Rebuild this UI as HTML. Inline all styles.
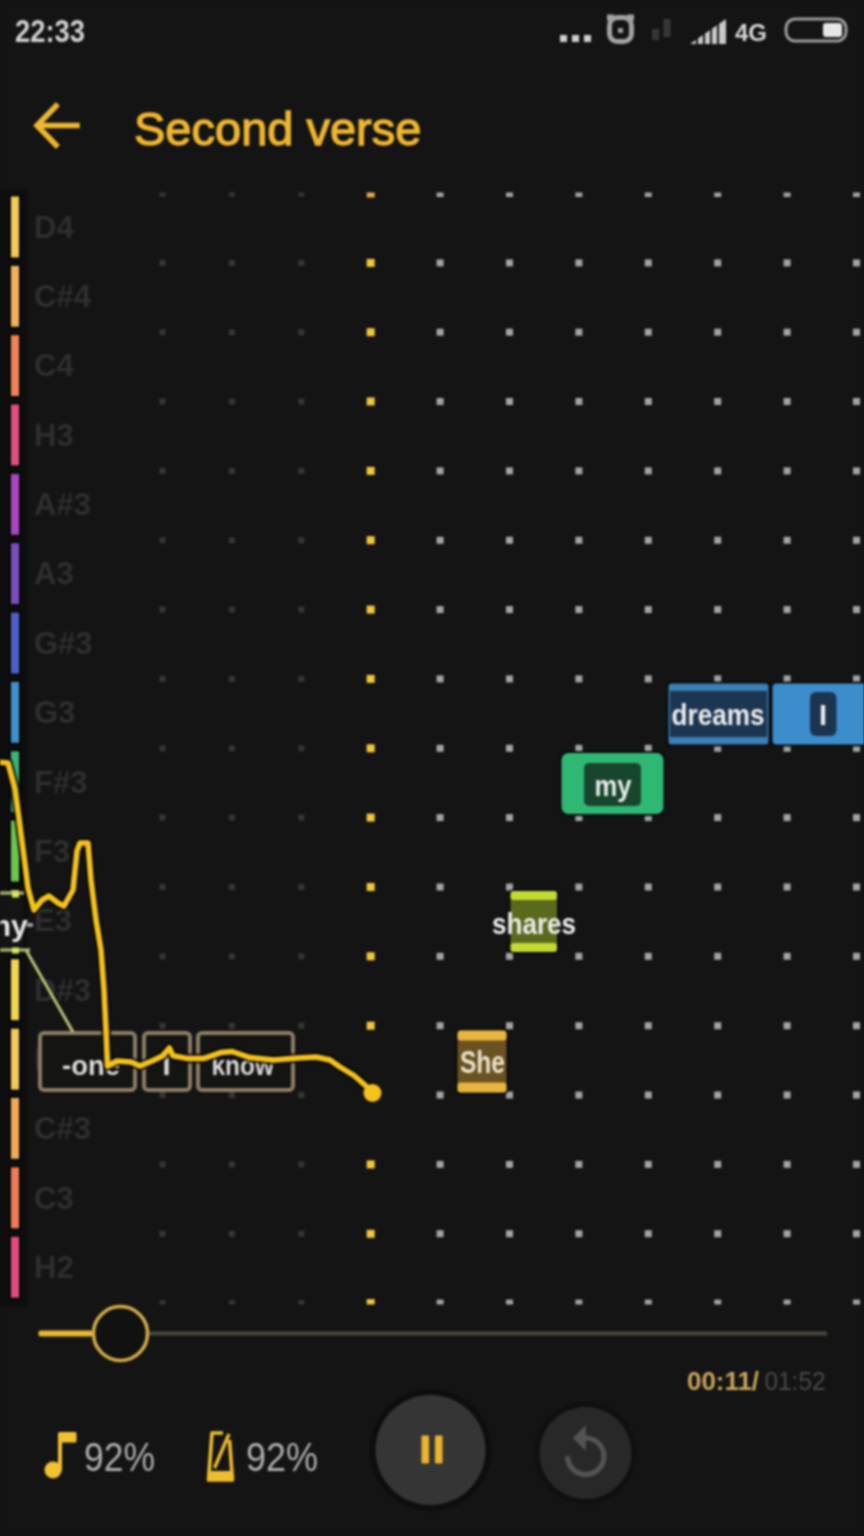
<!DOCTYPE html>
<html><head><meta charset="utf-8"><style>
html,body{margin:0;padding:0;background:#141414;}
body{width:864px;height:1536px;position:relative;overflow:hidden;font-family:"Liberation Sans",sans-serif;}
svg{position:absolute;left:0;top:0;filter:blur(1.2px);}
</style></head><body>
<svg width="864" height="1536" viewBox="0 0 864 1536" font-family="Liberation Sans, sans-serif">
<defs><clipPath id="gridclip"><rect x="0" y="192.5" width="864" height="1112"/></clipPath></defs>
<rect width="864" height="1536" fill="#141414"/>
<path d="M77 125.5 H38 M56 106 L37 125.5 L56 145" stroke="#efb62e" stroke-width="5.5" fill="none" stroke-linecap="square" stroke-linejoin="miter"/>
<text x="134" y="145" font-size="47" fill="#efb62e" stroke="#efb62e" stroke-width="1.3">Second verse</text>
<rect x="0" y="190" width="28" height="1116" fill="#0e0e0e"/>
<rect x="8.5" y="194.0" width="13" height="65.9" rx="2" fill="#080808"/>
<rect x="11" y="196.5" width="8" height="60.9" fill="#f4c85a"/>
<rect x="8.5" y="263.4" width="13" height="65.8" rx="2" fill="#080808"/>
<rect x="11" y="265.9" width="8" height="60.8" fill="#f4b05a"/>
<rect x="8.5" y="332.7" width="13" height="65.8" rx="2" fill="#080808"/>
<rect x="11" y="335.2" width="8" height="60.8" fill="#f18256"/>
<rect x="8.5" y="402.0" width="13" height="65.9" rx="2" fill="#080808"/>
<rect x="11" y="404.5" width="8" height="60.9" fill="#e04f80"/>
<rect x="8.5" y="471.4" width="13" height="65.9" rx="2" fill="#080808"/>
<rect x="11" y="473.9" width="8" height="60.9" fill="#a846c0"/>
<rect x="8.5" y="540.8" width="13" height="65.8" rx="2" fill="#080808"/>
<rect x="11" y="543.2" width="8" height="60.8" fill="#7a4ebe"/>
<rect x="8.5" y="610.1" width="13" height="65.9" rx="2" fill="#080808"/>
<rect x="11" y="612.6" width="8" height="60.9" fill="#4e60c8"/>
<rect x="8.5" y="679.4" width="13" height="65.9" rx="2" fill="#080808"/>
<rect x="11" y="681.9" width="8" height="60.9" fill="#4090cc"/>
<rect x="8.5" y="748.8" width="13" height="65.9" rx="2" fill="#080808"/>
<rect x="11" y="751.3" width="8" height="60.9" fill="#3cb47c"/>
<rect x="8.5" y="818.1" width="13" height="65.9" rx="2" fill="#080808"/>
<rect x="11" y="820.6" width="8" height="60.9" fill="#6cc452"/>
<rect x="8.5" y="887.5" width="13" height="65.8" rx="2" fill="#080808"/>
<rect x="11" y="890.0" width="8" height="60.8" fill="#bad448"/>
<rect x="8.5" y="956.8" width="13" height="65.8" rx="2" fill="#080808"/>
<rect x="11" y="959.3" width="8" height="60.8" fill="#f0d650"/>
<rect x="8.5" y="1026.2" width="13" height="65.9" rx="2" fill="#080808"/>
<rect x="11" y="1028.7" width="8" height="60.9" fill="#f3c85c"/>
<rect x="8.5" y="1095.5" width="13" height="65.8" rx="2" fill="#080808"/>
<rect x="11" y="1098.0" width="8" height="60.8" fill="#f2aa58"/>
<rect x="8.5" y="1164.9" width="13" height="65.9" rx="2" fill="#080808"/>
<rect x="11" y="1167.4" width="8" height="60.9" fill="#ef7c56"/>
<rect x="8.5" y="1234.2" width="13" height="65.8" rx="2" fill="#080808"/>
<rect x="11" y="1236.8" width="8" height="60.8" fill="#e04c82"/>
<text x="34" y="237.7" font-size="31" font-weight="bold" fill="#2e2e2e">D4</text>
<text x="34" y="307.0" font-size="31" font-weight="bold" fill="#2e2e2e">C#4</text>
<text x="34" y="376.4" font-size="31" font-weight="bold" fill="#2e2e2e">C4</text>
<text x="34" y="445.7" font-size="31" font-weight="bold" fill="#2e2e2e">H3</text>
<text x="34" y="515.1" font-size="31" font-weight="bold" fill="#2e2e2e">A#3</text>
<text x="34" y="584.4" font-size="31" font-weight="bold" fill="#2e2e2e">A3</text>
<text x="34" y="653.8" font-size="31" font-weight="bold" fill="#2e2e2e">G#3</text>
<text x="34" y="723.1" font-size="31" font-weight="bold" fill="#2e2e2e">G3</text>
<text x="34" y="792.5" font-size="31" font-weight="bold" fill="#2e2e2e">F#3</text>
<text x="34" y="861.8" font-size="31" font-weight="bold" fill="#2e2e2e">F3</text>
<text x="34" y="931.2" font-size="31" font-weight="bold" fill="#2e2e2e">E3</text>
<text x="34" y="1000.5" font-size="31" font-weight="bold" fill="#2e2e2e">D#3</text>
<text x="34" y="1069.9" font-size="31" font-weight="bold" fill="#2e2e2e">D3</text>
<text x="34" y="1139.2" font-size="31" font-weight="bold" fill="#2e2e2e">C#3</text>
<text x="34" y="1208.6" font-size="31" font-weight="bold" fill="#2e2e2e">C3</text>
<text x="34" y="1277.9" font-size="31" font-weight="bold" fill="#2e2e2e">H2</text>
<g clip-path="url(#gridclip)"><rect x="159.5" y="190.5" width="6" height="6" fill="#363636"/><rect x="228.9" y="190.5" width="6" height="6" fill="#363636"/><rect x="298.3" y="190.5" width="6" height="6" fill="#363636"/><rect x="366.7" y="189.5" width="8" height="8" fill="#e8a848"/><rect x="436.6" y="190.0" width="7" height="7" fill="#a4a4a4"/><rect x="506.0" y="190.0" width="7" height="7" fill="#a4a4a4"/><rect x="575.4" y="190.0" width="7" height="7" fill="#a4a4a4"/><rect x="644.8" y="190.0" width="7" height="7" fill="#a4a4a4"/><rect x="714.2" y="190.0" width="7" height="7" fill="#a4a4a4"/><rect x="783.6" y="190.0" width="7" height="7" fill="#a4a4a4"/><rect x="853.0" y="190.0" width="7" height="7" fill="#a4a4a4"/><rect x="159.5" y="259.9" width="6" height="6" fill="#363636"/><rect x="228.9" y="259.9" width="6" height="6" fill="#363636"/><rect x="298.3" y="259.9" width="6" height="6" fill="#363636"/><rect x="366.7" y="258.9" width="8" height="8" fill="#f2c83a"/><rect x="436.6" y="259.4" width="7" height="7" fill="#a4a4a4"/><rect x="506.0" y="259.4" width="7" height="7" fill="#a4a4a4"/><rect x="575.4" y="259.4" width="7" height="7" fill="#a4a4a4"/><rect x="644.8" y="259.4" width="7" height="7" fill="#a4a4a4"/><rect x="714.2" y="259.4" width="7" height="7" fill="#a4a4a4"/><rect x="783.6" y="259.4" width="7" height="7" fill="#a4a4a4"/><rect x="853.0" y="259.4" width="7" height="7" fill="#a4a4a4"/><rect x="159.5" y="329.2" width="6" height="6" fill="#363636"/><rect x="228.9" y="329.2" width="6" height="6" fill="#363636"/><rect x="298.3" y="329.2" width="6" height="6" fill="#363636"/><rect x="366.7" y="328.2" width="8" height="8" fill="#f2c83a"/><rect x="436.6" y="328.7" width="7" height="7" fill="#a4a4a4"/><rect x="506.0" y="328.7" width="7" height="7" fill="#a4a4a4"/><rect x="575.4" y="328.7" width="7" height="7" fill="#a4a4a4"/><rect x="644.8" y="328.7" width="7" height="7" fill="#a4a4a4"/><rect x="714.2" y="328.7" width="7" height="7" fill="#a4a4a4"/><rect x="783.6" y="328.7" width="7" height="7" fill="#a4a4a4"/><rect x="853.0" y="328.7" width="7" height="7" fill="#a4a4a4"/><rect x="159.5" y="398.5" width="6" height="6" fill="#363636"/><rect x="228.9" y="398.5" width="6" height="6" fill="#363636"/><rect x="298.3" y="398.5" width="6" height="6" fill="#363636"/><rect x="366.7" y="397.5" width="8" height="8" fill="#f2c83a"/><rect x="436.6" y="398.0" width="7" height="7" fill="#a4a4a4"/><rect x="506.0" y="398.0" width="7" height="7" fill="#a4a4a4"/><rect x="575.4" y="398.0" width="7" height="7" fill="#a4a4a4"/><rect x="644.8" y="398.0" width="7" height="7" fill="#a4a4a4"/><rect x="714.2" y="398.0" width="7" height="7" fill="#a4a4a4"/><rect x="783.6" y="398.0" width="7" height="7" fill="#a4a4a4"/><rect x="853.0" y="398.0" width="7" height="7" fill="#a4a4a4"/><rect x="159.5" y="467.9" width="6" height="6" fill="#363636"/><rect x="228.9" y="467.9" width="6" height="6" fill="#363636"/><rect x="298.3" y="467.9" width="6" height="6" fill="#363636"/><rect x="366.7" y="466.9" width="8" height="8" fill="#f2c83a"/><rect x="436.6" y="467.4" width="7" height="7" fill="#a4a4a4"/><rect x="506.0" y="467.4" width="7" height="7" fill="#a4a4a4"/><rect x="575.4" y="467.4" width="7" height="7" fill="#a4a4a4"/><rect x="644.8" y="467.4" width="7" height="7" fill="#a4a4a4"/><rect x="714.2" y="467.4" width="7" height="7" fill="#a4a4a4"/><rect x="783.6" y="467.4" width="7" height="7" fill="#a4a4a4"/><rect x="853.0" y="467.4" width="7" height="7" fill="#a4a4a4"/><rect x="159.5" y="537.2" width="6" height="6" fill="#363636"/><rect x="228.9" y="537.2" width="6" height="6" fill="#363636"/><rect x="298.3" y="537.2" width="6" height="6" fill="#363636"/><rect x="366.7" y="536.2" width="8" height="8" fill="#f2c83a"/><rect x="436.6" y="536.8" width="7" height="7" fill="#a4a4a4"/><rect x="506.0" y="536.8" width="7" height="7" fill="#a4a4a4"/><rect x="575.4" y="536.8" width="7" height="7" fill="#a4a4a4"/><rect x="644.8" y="536.8" width="7" height="7" fill="#a4a4a4"/><rect x="714.2" y="536.8" width="7" height="7" fill="#a4a4a4"/><rect x="783.6" y="536.8" width="7" height="7" fill="#a4a4a4"/><rect x="853.0" y="536.8" width="7" height="7" fill="#a4a4a4"/><rect x="159.5" y="606.6" width="6" height="6" fill="#363636"/><rect x="228.9" y="606.6" width="6" height="6" fill="#363636"/><rect x="298.3" y="606.6" width="6" height="6" fill="#363636"/><rect x="366.7" y="605.6" width="8" height="8" fill="#f2c83a"/><rect x="436.6" y="606.1" width="7" height="7" fill="#a4a4a4"/><rect x="506.0" y="606.1" width="7" height="7" fill="#a4a4a4"/><rect x="575.4" y="606.1" width="7" height="7" fill="#a4a4a4"/><rect x="644.8" y="606.1" width="7" height="7" fill="#a4a4a4"/><rect x="714.2" y="606.1" width="7" height="7" fill="#a4a4a4"/><rect x="783.6" y="606.1" width="7" height="7" fill="#a4a4a4"/><rect x="853.0" y="606.1" width="7" height="7" fill="#a4a4a4"/><rect x="159.5" y="675.9" width="6" height="6" fill="#363636"/><rect x="228.9" y="675.9" width="6" height="6" fill="#363636"/><rect x="298.3" y="675.9" width="6" height="6" fill="#363636"/><rect x="366.7" y="674.9" width="8" height="8" fill="#f2c83a"/><rect x="436.6" y="675.4" width="7" height="7" fill="#a4a4a4"/><rect x="506.0" y="675.4" width="7" height="7" fill="#a4a4a4"/><rect x="575.4" y="675.4" width="7" height="7" fill="#a4a4a4"/><rect x="644.8" y="675.4" width="7" height="7" fill="#a4a4a4"/><rect x="714.2" y="675.4" width="7" height="7" fill="#a4a4a4"/><rect x="783.6" y="675.4" width="7" height="7" fill="#a4a4a4"/><rect x="853.0" y="675.4" width="7" height="7" fill="#a4a4a4"/><rect x="159.5" y="745.3" width="6" height="6" fill="#363636"/><rect x="228.9" y="745.3" width="6" height="6" fill="#363636"/><rect x="298.3" y="745.3" width="6" height="6" fill="#363636"/><rect x="366.7" y="744.3" width="8" height="8" fill="#f2c83a"/><rect x="436.6" y="744.8" width="7" height="7" fill="#a4a4a4"/><rect x="506.0" y="744.8" width="7" height="7" fill="#a4a4a4"/><rect x="575.4" y="744.8" width="7" height="7" fill="#a4a4a4"/><rect x="644.8" y="744.8" width="7" height="7" fill="#a4a4a4"/><rect x="714.2" y="744.8" width="7" height="7" fill="#a4a4a4"/><rect x="783.6" y="744.8" width="7" height="7" fill="#a4a4a4"/><rect x="853.0" y="744.8" width="7" height="7" fill="#a4a4a4"/><rect x="159.5" y="814.6" width="6" height="6" fill="#363636"/><rect x="228.9" y="814.6" width="6" height="6" fill="#363636"/><rect x="298.3" y="814.6" width="6" height="6" fill="#363636"/><rect x="366.7" y="813.6" width="8" height="8" fill="#f2c83a"/><rect x="436.6" y="814.1" width="7" height="7" fill="#a4a4a4"/><rect x="506.0" y="814.1" width="7" height="7" fill="#a4a4a4"/><rect x="575.4" y="814.1" width="7" height="7" fill="#a4a4a4"/><rect x="644.8" y="814.1" width="7" height="7" fill="#a4a4a4"/><rect x="714.2" y="814.1" width="7" height="7" fill="#a4a4a4"/><rect x="783.6" y="814.1" width="7" height="7" fill="#a4a4a4"/><rect x="853.0" y="814.1" width="7" height="7" fill="#a4a4a4"/><rect x="159.5" y="884.0" width="6" height="6" fill="#363636"/><rect x="228.9" y="884.0" width="6" height="6" fill="#363636"/><rect x="298.3" y="884.0" width="6" height="6" fill="#363636"/><rect x="366.7" y="883.0" width="8" height="8" fill="#f2c83a"/><rect x="436.6" y="883.5" width="7" height="7" fill="#a4a4a4"/><rect x="506.0" y="883.5" width="7" height="7" fill="#a4a4a4"/><rect x="575.4" y="883.5" width="7" height="7" fill="#a4a4a4"/><rect x="644.8" y="883.5" width="7" height="7" fill="#a4a4a4"/><rect x="714.2" y="883.5" width="7" height="7" fill="#a4a4a4"/><rect x="783.6" y="883.5" width="7" height="7" fill="#a4a4a4"/><rect x="853.0" y="883.5" width="7" height="7" fill="#a4a4a4"/><rect x="159.5" y="953.3" width="6" height="6" fill="#363636"/><rect x="228.9" y="953.3" width="6" height="6" fill="#363636"/><rect x="298.3" y="953.3" width="6" height="6" fill="#363636"/><rect x="366.7" y="952.3" width="8" height="8" fill="#f2c83a"/><rect x="436.6" y="952.8" width="7" height="7" fill="#a4a4a4"/><rect x="506.0" y="952.8" width="7" height="7" fill="#a4a4a4"/><rect x="575.4" y="952.8" width="7" height="7" fill="#a4a4a4"/><rect x="644.8" y="952.8" width="7" height="7" fill="#a4a4a4"/><rect x="714.2" y="952.8" width="7" height="7" fill="#a4a4a4"/><rect x="783.6" y="952.8" width="7" height="7" fill="#a4a4a4"/><rect x="853.0" y="952.8" width="7" height="7" fill="#a4a4a4"/><rect x="159.5" y="1022.7" width="6" height="6" fill="#363636"/><rect x="228.9" y="1022.7" width="6" height="6" fill="#363636"/><rect x="298.3" y="1022.7" width="6" height="6" fill="#363636"/><rect x="366.7" y="1021.7" width="8" height="8" fill="#f2c83a"/><rect x="436.6" y="1022.2" width="7" height="7" fill="#a4a4a4"/><rect x="506.0" y="1022.2" width="7" height="7" fill="#a4a4a4"/><rect x="575.4" y="1022.2" width="7" height="7" fill="#a4a4a4"/><rect x="644.8" y="1022.2" width="7" height="7" fill="#a4a4a4"/><rect x="714.2" y="1022.2" width="7" height="7" fill="#a4a4a4"/><rect x="783.6" y="1022.2" width="7" height="7" fill="#a4a4a4"/><rect x="853.0" y="1022.2" width="7" height="7" fill="#a4a4a4"/><rect x="159.5" y="1092.0" width="6" height="6" fill="#363636"/><rect x="228.9" y="1092.0" width="6" height="6" fill="#363636"/><rect x="298.3" y="1092.0" width="6" height="6" fill="#363636"/><rect x="366.7" y="1091.0" width="8" height="8" fill="#f2c83a"/><rect x="436.6" y="1091.5" width="7" height="7" fill="#a4a4a4"/><rect x="506.0" y="1091.5" width="7" height="7" fill="#a4a4a4"/><rect x="575.4" y="1091.5" width="7" height="7" fill="#a4a4a4"/><rect x="644.8" y="1091.5" width="7" height="7" fill="#a4a4a4"/><rect x="714.2" y="1091.5" width="7" height="7" fill="#a4a4a4"/><rect x="783.6" y="1091.5" width="7" height="7" fill="#a4a4a4"/><rect x="853.0" y="1091.5" width="7" height="7" fill="#a4a4a4"/><rect x="159.5" y="1161.4" width="6" height="6" fill="#363636"/><rect x="228.9" y="1161.4" width="6" height="6" fill="#363636"/><rect x="298.3" y="1161.4" width="6" height="6" fill="#363636"/><rect x="366.7" y="1160.4" width="8" height="8" fill="#f2c83a"/><rect x="436.6" y="1160.9" width="7" height="7" fill="#a4a4a4"/><rect x="506.0" y="1160.9" width="7" height="7" fill="#a4a4a4"/><rect x="575.4" y="1160.9" width="7" height="7" fill="#a4a4a4"/><rect x="644.8" y="1160.9" width="7" height="7" fill="#a4a4a4"/><rect x="714.2" y="1160.9" width="7" height="7" fill="#a4a4a4"/><rect x="783.6" y="1160.9" width="7" height="7" fill="#a4a4a4"/><rect x="853.0" y="1160.9" width="7" height="7" fill="#a4a4a4"/><rect x="159.5" y="1230.8" width="6" height="6" fill="#363636"/><rect x="228.9" y="1230.8" width="6" height="6" fill="#363636"/><rect x="298.3" y="1230.8" width="6" height="6" fill="#363636"/><rect x="366.7" y="1229.8" width="8" height="8" fill="#f2c83a"/><rect x="436.6" y="1230.2" width="7" height="7" fill="#a4a4a4"/><rect x="506.0" y="1230.2" width="7" height="7" fill="#a4a4a4"/><rect x="575.4" y="1230.2" width="7" height="7" fill="#a4a4a4"/><rect x="644.8" y="1230.2" width="7" height="7" fill="#a4a4a4"/><rect x="714.2" y="1230.2" width="7" height="7" fill="#a4a4a4"/><rect x="783.6" y="1230.2" width="7" height="7" fill="#a4a4a4"/><rect x="853.0" y="1230.2" width="7" height="7" fill="#a4a4a4"/><rect x="159.5" y="1300.1" width="6" height="6" fill="#363636"/><rect x="228.9" y="1300.1" width="6" height="6" fill="#363636"/><rect x="298.3" y="1300.1" width="6" height="6" fill="#363636"/><rect x="366.7" y="1299.1" width="8" height="8" fill="#f2c83a"/><rect x="436.6" y="1299.6" width="7" height="7" fill="#a4a4a4"/><rect x="506.0" y="1299.6" width="7" height="7" fill="#a4a4a4"/><rect x="575.4" y="1299.6" width="7" height="7" fill="#a4a4a4"/><rect x="644.8" y="1299.6" width="7" height="7" fill="#a4a4a4"/><rect x="714.2" y="1299.6" width="7" height="7" fill="#a4a4a4"/><rect x="783.6" y="1299.6" width="7" height="7" fill="#a4a4a4"/><rect x="853.0" y="1299.6" width="7" height="7" fill="#a4a4a4"/></g>

<g>
 <rect x="666.5" y="681.5" width="104" height="65" rx="4" fill="#0b0b0b"/>
 <rect x="770.5" y="681.5" width="104" height="65" rx="4" fill="#0b0b0b"/>
 <rect x="559.5" y="751" width="106" height="65" rx="8" fill="#0b0b0b"/>
 <rect x="508.5" y="889" width="50.5" height="65" rx="6" fill="#0b0b0b"/>
 <rect x="455.5" y="1028.5" width="53" height="66" rx="5" fill="#0b0b0b"/>
 <rect x="668.5" y="683.5" width="100" height="61" rx="3" fill="#3a7fb6"/>
 <rect x="670" y="691" width="97" height="46" fill="#1c3652"/>
 <text x="718" y="725" font-size="29" font-weight="bold" fill="#ececec" text-anchor="middle" lengthAdjust="spacingAndGlyphs" textLength="93">dreams</text>
 <rect x="772.5" y="683.5" width="100" height="61" rx="4" fill="#3c8dcc"/>
 <rect x="810" y="692" width="26.5" height="44" rx="6" fill="#1c3450"/>
 <text x="823" y="725" font-size="29" font-weight="bold" fill="#ececec" text-anchor="middle" lengthAdjust="spacingAndGlyphs">I</text>

 <rect x="561.5" y="753" width="102" height="61" rx="7" fill="#2fb874"/>
 <rect x="584" y="763" width="57" height="43" rx="5" fill="#17462c"/>
 <text x="613" y="796" font-size="29" font-weight="bold" fill="#ececec" text-anchor="middle" lengthAdjust="spacingAndGlyphs" textLength="37">my</text>

 <rect x="510.5" y="891" width="46.5" height="61" rx="5" fill="#5a6a1c"/>
 <rect x="510.5" y="891" width="46.5" height="9" rx="3" fill="#c4da34"/>
 <rect x="510.5" y="943" width="46.5" height="9" rx="3" fill="#c4da34"/>
 <text x="534" y="934" font-size="29" font-weight="bold" fill="#ececec" text-anchor="middle" lengthAdjust="spacingAndGlyphs" textLength="84">shares</text>

 <rect x="457.5" y="1030.5" width="49" height="62" rx="4" fill="#6a5222"/>
 <rect x="457.5" y="1030.5" width="49" height="10" rx="3" fill="#e8b63e"/>
 <rect x="457.5" y="1082.5" width="49" height="10" rx="3" fill="#e8b63e"/>
 <text x="482.5" y="1073" font-size="31" font-weight="bold" text-anchor="middle" lengthAdjust="spacingAndGlyphs" textLength="45" fill="#ebe3cc">She</text>
</g>

<g>
 <rect x="40" y="1033" width="95" height="57" rx="4" fill="#141412" stroke="#8a7d66" stroke-width="4"/>
 <rect x="144" y="1033" width="46" height="57" rx="4" fill="#141412" stroke="#8a7d66" stroke-width="4"/>
 <rect x="198" y="1033" width="95" height="57" rx="4" fill="#141412" stroke="#8a7d66" stroke-width="4"/>
 <text x="62" y="1074.5" font-size="28" font-weight="bold" fill="#dcdcdc" textLength="58" lengthAdjust="spacingAndGlyphs">-one</text>
 <text x="166.5" y="1075" font-size="29" font-weight="bold" fill="#dcdcdc" text-anchor="middle">I</text>
 <text x="211.5" y="1074.5" font-size="27" font-weight="bold" fill="#d8d8d8" textLength="62.5" lengthAdjust="spacingAndGlyphs">know</text>
 <!-- partial my box at left -->
 <rect x="-10" y="893" width="33" height="57" fill="#141414"/>
 <path d="M0 893 H24 M0 950 H30" stroke="#a0a86c" stroke-width="3.5"/>
 <rect x="12" y="891.5" width="7" height="6" fill="#d6e860"/>
 <rect x="12" y="947.5" width="7" height="6" fill="#d6e860"/>
 <text x="-16" y="936" font-size="29" font-weight="bold" fill="#e6e6e6" textLength="44" lengthAdjust="spacingAndGlyphs">my</text>
 <rect x="27" y="923" width="6" height="4" fill="#9a9a9a"/>
 <path d="M26 950 L73 1032" stroke="#b8c076" stroke-width="3"/>
</g>
<path d="M-2.0 762.0 L8.0 763.0 L15.0 789.0 L20.0 826.0 L25.0 864.0 L28.0 888.0 L34.0 910.0 L42.0 900.0 L49.0 896.0 L58.0 903.0 L64.0 906.0 L73.0 890.0 L77.0 851.0 L80.0 843.0 L88.0 843.0 L91.0 880.0 L96.0 920.0 L101.0 950.0 L104.0 990.0 L106.0 1030.0 L107.5 1066.0 L117.0 1061.0 L131.0 1062.0 L140.0 1066.0 L152.0 1061.0 L162.5 1056.0 L169.4 1048.0 L173.0 1055.8 L187.0 1058.4 L204.0 1058.4 L221.5 1052.4 L232.0 1051.5 L250.0 1057.6 L274.0 1060.0 L298.3 1058.0 L316.0 1057.0 L330.0 1060.0 L340.0 1067.0 L354.0 1075.5 L366.0 1086.0 L372.0 1093.0" stroke="#0a0a0a" stroke-width="10" fill="none" stroke-linejoin="round" stroke-linecap="round" opacity="0.8"/>
<path d="M-2.0 762.0 L8.0 763.0 L15.0 789.0 L20.0 826.0 L25.0 864.0 L28.0 888.0 L34.0 910.0 L42.0 900.0 L49.0 896.0 L58.0 903.0 L64.0 906.0 L73.0 890.0 L77.0 851.0 L80.0 843.0 L88.0 843.0 L91.0 880.0 L96.0 920.0 L101.0 950.0 L104.0 990.0 L106.0 1030.0 L107.5 1066.0 L117.0 1061.0 L131.0 1062.0 L140.0 1066.0 L152.0 1061.0 L162.5 1056.0 L169.4 1048.0 L173.0 1055.8 L187.0 1058.4 L204.0 1058.4 L221.5 1052.4 L232.0 1051.5 L250.0 1057.6 L274.0 1060.0 L298.3 1058.0 L316.0 1057.0 L330.0 1060.0 L340.0 1067.0 L354.0 1075.5 L366.0 1086.0 L372.0 1093.0" stroke="#f5c21a" stroke-width="5.5" fill="none" stroke-linejoin="round" stroke-linecap="round"/>
<circle cx="372.5" cy="1093" r="9" fill="#f5c21a"/>

<rect x="149" y="1331.5" width="678" height="4" fill="#4a463c"/>
<rect x="38.5" y="1330.5" width="54" height="6" rx="2" fill="#e8b830"/>
<circle cx="120.5" cy="1333.5" r="27" fill="#111111" stroke="#d2aa45" stroke-width="3.6"/>
<text x="687" y="1390" font-size="26" fill="#c9a55c" font-weight="bold" textLength="72" lengthAdjust="spacingAndGlyphs">00:11/</text>
<text x="764.5" y="1390" font-size="26" fill="#4a4a4a" textLength="61" lengthAdjust="spacingAndGlyphs">01:52</text>


<!-- music note -->
<circle cx="53" cy="1470" r="8.5" fill="#f2c230"/>
<rect x="58" y="1433" width="4" height="38" fill="#f2c230"/>
<rect x="58" y="1432" width="18.5" height="10.5" rx="1.5" fill="#f2c230"/>
<text x="84" y="1470.5" font-size="40" fill="#adadad" textLength="71" lengthAdjust="spacingAndGlyphs">92%</text>
<!-- metronome -->
<path d="M223 1433 H212 L208.5 1480 H232.5 L229.5 1440" fill="none" stroke="#efbd2c" stroke-width="3.6" stroke-linejoin="round"/>
<rect x="208.5" y="1471" width="24" height="9" fill="#efbd2c"/>
<path d="M214.5 1468 L229 1434" stroke="#efbd2c" stroke-width="3.4"/>
<text x="246" y="1470.5" font-size="40" fill="#adadad" textLength="72" lengthAdjust="spacingAndGlyphs">92%</text>
<!-- pause -->
<circle cx="430.5" cy="1450" r="61" fill="#0e0e0e"/>
<circle cx="430.5" cy="1450" r="55" fill="#353535"/>
<rect x="421.5" y="1435.5" width="7.5" height="28" rx="1" fill="#eab52c"/>
<rect x="435" y="1435.5" width="7.5" height="28" rx="1" fill="#eab52c"/>
<!-- replay -->
<circle cx="585.5" cy="1453" r="51" fill="#101010"/>
<circle cx="585.5" cy="1453" r="46" fill="#282828"/>
<path transform="translate(554.6 1422.4) scale(2.6)" d="M12 5V1L7 6l5 5V7c3.31 0 6 2.69 6 6s-2.69 6-6 6-6-2.69-6-6H4c0 4.42 3.58 8 8 8s8-3.58 8-8-3.58-8-8-8z" fill="#535353"/>


<text x="15" y="42" font-size="31" font-weight="bold" fill="#d0d0d0" textLength="70" lengthAdjust="spacingAndGlyphs">22:33</text>
<rect x="560" y="35" width="7" height="7" fill="#cfcfcf"/>
<rect x="572" y="35" width="7" height="7" fill="#cfcfcf"/>
<rect x="584" y="35" width="7" height="7" fill="#cfcfcf"/>
<rect x="609.5" y="17.5" width="22" height="24" rx="8" fill="none" stroke="#a2a2a2" stroke-width="5"/>
<rect x="607" y="14.5" width="7" height="6" fill="#a2a2a2"/>
<rect x="627" y="14.5" width="7" height="6" fill="#a2a2a2"/>
<rect x="618" y="28" width="5" height="5" fill="#9a9a9a"/>
<path d="M655.5 40 V29 M667 37 V19" stroke="#363636" stroke-width="7"/>
<path d="M690 44 L726 19 L726 44 Z" fill="#c8c8c8"/>
<path d="M697 44 V38 M704 44 V33 M711 44 V29 M718 44 V24" stroke="#141414" stroke-width="2"/>
<text x="735" y="41" font-size="24" font-weight="bold" fill="#d6d6d6">4G</text>
<rect x="786" y="19" width="60" height="22" rx="9" fill="none" stroke="#9c9c9c" stroke-width="3"/>
<rect x="823" y="23" width="19" height="14" rx="3" fill="#e6e6e6"/>

</svg>
</body></html>
